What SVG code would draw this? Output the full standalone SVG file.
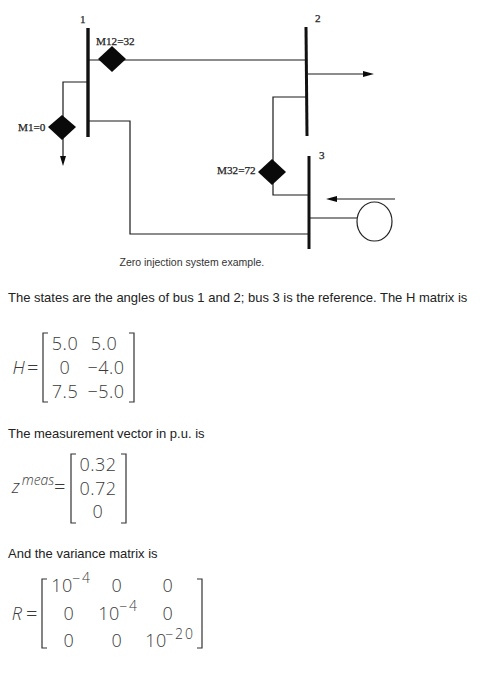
<svg xmlns="http://www.w3.org/2000/svg" width="502" height="676" viewBox="0 0 502 676">
<style>
.l{fill:none;stroke:#1a1a1a;stroke-width:1.2}
.b{fill:none;stroke:#111;stroke-linecap:butt}
.d{fill:#0a0a0a}
.s{font-family:"Liberation Serif",serif;font-size:11.2px;fill:#222;stroke:#222;stroke-width:.25}
.t{font-family:"Liberation Sans",Arial,sans-serif;font-size:13px;fill:#222}
.c{font-family:"Liberation Sans",Arial,sans-serif;font-size:10.500px;fill:#333}
.m{font-family:"Open Sans",sans-serif;font-size:18px;fill:#3a3a3a;text-anchor:middle;font-weight:300;letter-spacing:.5px}
.q{font-size:20px}
.e{font-size:14px;letter-spacing:2px}
.k{fill:none;stroke:#333;stroke-width:1.200}
</style>
<rect width="502" height="676" fill="#fff"/>
<g id="connectors">
<path class="l" d="M89 60H306"/>
<path class="l" d="M89 82H63V160"/>
<path class="l" d="M89 121H130V234H308"/>
<path class="l" d="M307 97H273V195H308"/>
<path class="l" d="M308 218H358"/>
<path class="l" d="M308 74H365"/>
<path d="M374 74L363 71V77Z" class="d"/>
<path class="l" d="M395 199H335"/>
<path d="M326 199L337 196V202Z" class="d"/>
<path d="M63 166L60 156H66Z" class="d"/>
</g>
<g id="bus1"><path class="b" stroke-width="3.400" d="M88 28V137"/><text class="s" x="80" y="23">1</text></g>
<g id="bus2"><path class="b" stroke-width="3" d="M306 27L307 136"/><text class="s" x="315" y="22">2</text></g>
<g id="bus3"><path class="b" stroke-width="3" d="M309 156V249"/><text class="s" x="319" y="159">3</text></g>
<g id="m12"><path class="d" d="M112 46L126 59L112 72L98 59Z"/><text class="s" x="96" y="45">M12=32</text></g>
<g id="m1"><path class="d" d="M62 115L76 127L62 140L48 127Z"/><text class="s" x="18" y="131">M1=0</text></g>
<g id="m32"><path class="d" d="M272 159L286 172L272 185L258 172Z"/><text class="s" x="217" y="174">M32=72</text></g>
<g id="generator"><ellipse cx="374.500" cy="221.500" rx="17.500" ry="19.500" fill="#fff" stroke="#222" stroke-width="1.200"/></g>
<g id="caption"><text class="c" x="119.500" y="266">Zero injection system example.</text></g>
<g id="text">
<text class="t" x="8" y="302">The states are the angles of bus 1 and 2; bus 3 is the reference. The H matrix is</text>
<text class="t" x="8" y="438">The measurement vector in p.u. is</text>
<text class="t" x="8" y="558">And the variance matrix is</text>
</g>
<g id="matrix-h">
<text class="m" x="19" y="374" font-style="italic">H</text><text class="m q" x="33" y="375">=</text>
<path class="k" d="M48 333H43V402H48M129 333H134V402H129"/>
<text class="m" x="65" y="350">5.0</text><text class="m" x="104" y="350">5.0</text>
<text class="m" x="65" y="374">0</text><text class="m" x="106" y="374">−4.0</text>
<text class="m" x="65" y="398">7.5</text><text class="m" x="106" y="398">−5.0</text>
</g>
<g id="matrix-z">
<text class="m" x="16" y="493" font-style="italic">z</text><text class="m" style="font-size:14px;letter-spacing:0" x="38" y="485" font-style="italic">meas</text><text class="m q" x="60" y="494">=</text>
<path class="k" d="M76 454H71V523H76M121 454H126V523H121"/>
<text class="m" x="98" y="471">0.32</text><text class="m" x="98" y="495">0.72</text><text class="m" x="98" y="518">0</text>
</g>
<g id="matrix-r">
<text class="m" x="17" y="620" font-style="italic">R</text><text class="m q" x="32" y="621">=</text>
<path class="k" d="M47 579H42V648H47M197 579H202V648H197"/>
<text class="m" x="62" y="592">10</text><text class="m e" x="82" y="583">−4</text><text class="m" x="117" y="592">0</text><text class="m" x="168" y="592">0</text>
<text class="m" x="69" y="620">0</text><text class="m" x="109" y="620">10</text><text class="m e" x="129" y="611">−4</text><text class="m" x="168" y="620">0</text>
<text class="m" x="69" y="647">0</text><text class="m" x="117" y="647">0</text><text class="m" x="156" y="647">10</text><text class="m e" x="180" y="639">−20</text>
</g>
</svg>
